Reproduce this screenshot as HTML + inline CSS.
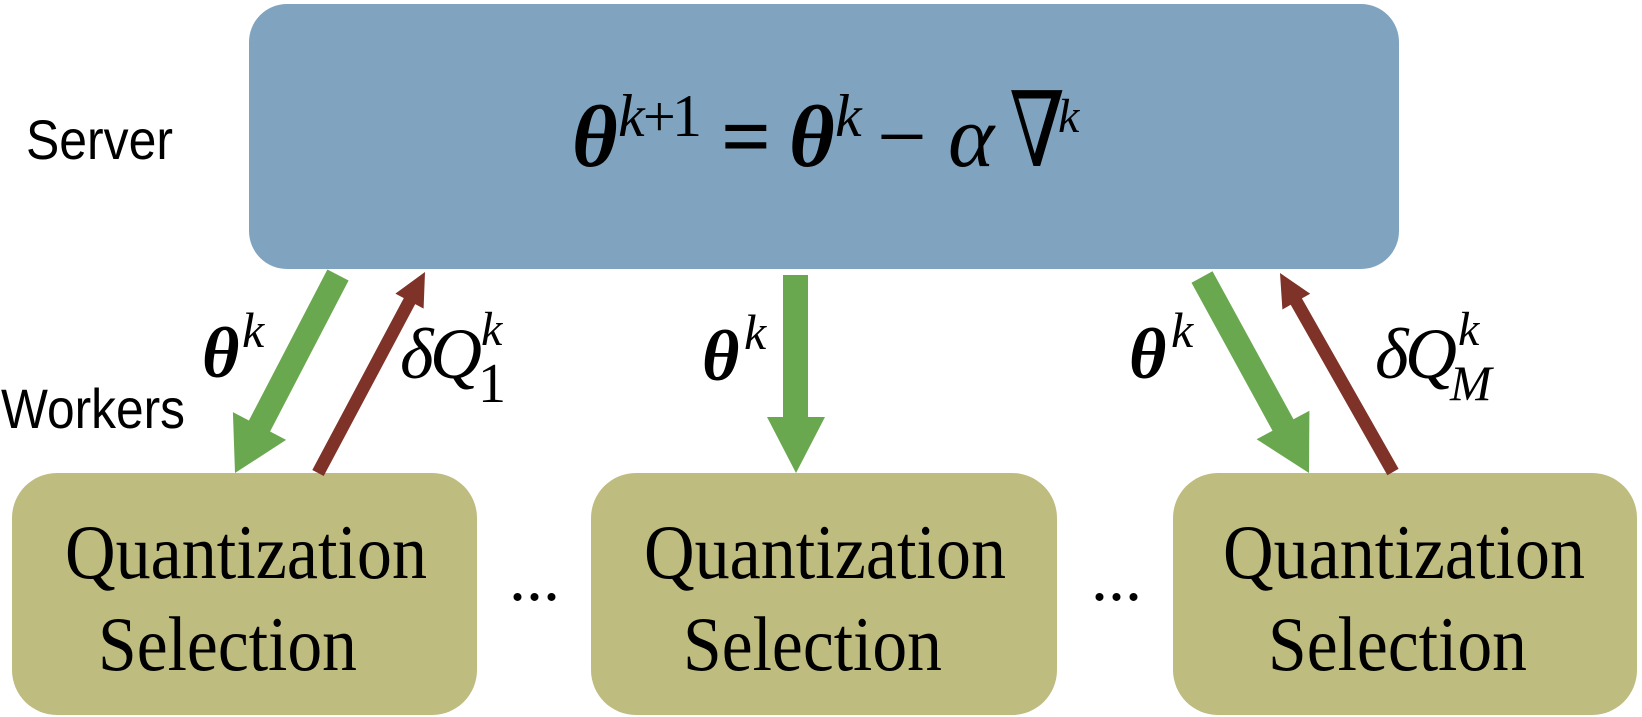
<!DOCTYPE html>
<html>
<head>
<meta charset="utf-8">
<style>
  html, body { margin:0; padding:0; background:#ffffff; }
  body { width:1642px; height:717px; overflow:hidden; }
  svg { display:block; }
  .serif { font-family: "Liberation Serif", "DejaVu Serif", serif; }
  .sans { font-family: "Liberation Sans", "DejaVu Sans", sans-serif; }
</style>
</head>
<body>
<svg width="1642" height="717" viewBox="0 0 1642 717" xmlns="http://www.w3.org/2000/svg">
  <!-- Server box -->
  <rect x="249" y="4" width="1150" height="265" rx="38" ry="38" fill="#80a4c0"/>

  <!-- Worker boxes -->
  <rect x="12" y="473" width="465" height="242" rx="45" ry="45" fill="#bebc7f"/>
  <rect x="591" y="473" width="466" height="242" rx="45" ry="45" fill="#bebc7f"/>
  <rect x="1173" y="473" width="464" height="242" rx="45" ry="45" fill="#bebc7f"/>

  <!-- Left labels -->
  <text class="sans" x="26" y="159" font-size="56" textLength="147" lengthAdjust="spacingAndGlyphs" fill="#000">Server</text>
  <text class="sans" x="1" y="428" font-size="56" textLength="184" lengthAdjust="spacingAndGlyphs" fill="#000">Workers</text>

  <!-- Formula in server -->
  <g class="serif" fill="#000">
    <text x="572" y="166" font-size="88" font-weight="bold" font-style="italic">θ</text>
    <text x="618" y="136" font-size="60" font-style="italic">k</text>
    <text x="643" y="136" font-size="58">+</text>
    <text x="672" y="136" font-size="60">1</text>
    <text x="721" y="166" font-size="88" font-weight="bold">=</text>
    <text x="789" y="166" font-size="88" font-weight="bold" font-style="italic">θ</text>
    <text x="835" y="136" font-size="60" font-style="italic">k</text>
    <text x="877" y="166" font-size="88">−</text>
    <text x="948" y="166" font-size="88" font-style="italic">α</text>
    <text transform="translate(1037,166) scale(1,1.3)" x="0" y="0" font-size="80" text-anchor="middle">∇</text>
    <text x="1058" y="132" font-size="48" font-style="italic">k</text>
  </g>

  <!-- Arrows: left pair -->
  <polygon fill="#6aa850" points="327.4,269.5 348.6,280.5 270.1,431.5 286.1,439.9 235,473 232.9,412.1 248.9,420.5"/>
  <polygon fill="#7e3228" points="312.3,470 323.7,476 415.2,304.1 423.6,308.6 425,272 395.4,293.6 403.8,298.1"/>

  <!-- Middle arrow -->
  <polygon fill="#6aa850" points="783,275 808,275 808,417 825,417 796,473 767,417 783,417"/>

  <!-- Right pair -->
  <polygon fill="#6aa850" points="1191.5,282.7 1212.5,271.3 1293.5,419.3 1309.4,410.8 1309,473 1256.6,439.3 1272.5,430.7"/>
  <polygon fill="#7e3228" points="1387.4,475.2 1398.6,468.8 1301.9,298.4 1310.2,293.7 1280,273 1282.4,309.5 1290.7,304.8"/>

  <!-- Arrow labels -->
  <g class="serif" fill="#000">
    <!-- left theta^k -->
    <text x="202" y="377" font-size="72" font-weight="bold" font-style="italic">θ</text>
    <text x="242" y="347" font-size="50" font-style="italic">k</text>
    <!-- delta Q_1^k -->
    <text x="400" y="378" font-size="72" font-style="italic">δ</text>
    <text x="430" y="378" font-size="72" font-style="italic">Q</text>
    <text x="481" y="345" font-size="48" font-style="italic">k</text>
    <text x="478" y="402" font-size="56">1</text>
    <!-- middle theta^k -->
    <text x="702" y="380" font-size="72" font-weight="bold" font-style="italic">θ</text>
    <text x="744" y="349" font-size="50" font-style="italic">k</text>
    <!-- right theta^k -->
    <text x="1129" y="378" font-size="72" font-weight="bold" font-style="italic">θ</text>
    <text x="1171" y="347" font-size="50" font-style="italic">k</text>
    <!-- delta Q_M^k -->
    <text x="1375" y="378" font-size="72" font-style="italic">δ</text>
    <text x="1405" y="378" font-size="72" font-style="italic">Q</text>
    <text x="1458" y="345" font-size="48" font-style="italic">k</text>
    <text x="1450" y="400" font-size="50" font-style="italic">M</text>
  </g>

  <!-- Worker texts -->
  <g class="serif" fill="#000" font-size="77">
    <text x="65" y="578" textLength="362" lengthAdjust="spacingAndGlyphs">Quantization</text>
    <text x="98" y="670" textLength="259" lengthAdjust="spacingAndGlyphs">Selection</text>
    <text x="644" y="578" textLength="362" lengthAdjust="spacingAndGlyphs">Quantization</text>
    <text x="683" y="670" textLength="259" lengthAdjust="spacingAndGlyphs">Selection</text>
    <text x="1223" y="578" textLength="362" lengthAdjust="spacingAndGlyphs">Quantization</text>
    <text x="1268" y="670" textLength="259" lengthAdjust="spacingAndGlyphs">Selection</text>
  </g>

  <!-- Ellipses -->
  <g class="serif" fill="#000" font-size="68">
    <text x="509" y="600">...</text>
    <text x="1091" y="600">...</text>
  </g>
</svg>
</body>
</html>
